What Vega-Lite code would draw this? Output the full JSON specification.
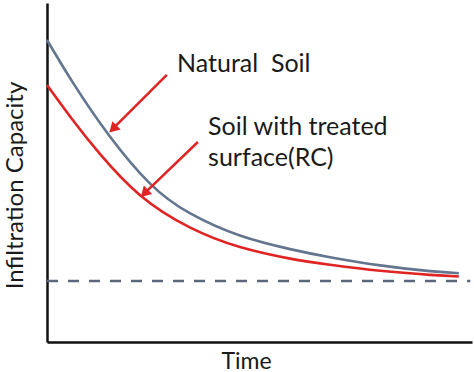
{
  "$schema": "https://vega.github.io/schema/vega-lite/v6.json",
  "width": 425,
  "height": 339,
  "autosize": {"type": "none"},
  "padding": {"left": 47, "top": 3, "right": 2, "bottom": 30},
  "background": "white",
  "config": {
    "view": {"stroke": null},
    "font": "Lato",
    "axis": {"grid": false, "ticks": false, "labels": false, "domainColor": "#111111", "domainWidth": 2.5, "titleFont": "Lato", "titleFontWeight": "normal", "titleColor": "#1a1a1a"}
  },
  "datasets": {
    "curves": [
      {"series": "natural", "t": 0, "v": 89.1},
      {"series": "natural", "t": 6.1, "v": 76.5},
      {"series": "natural", "t": 14.4, "v": 61.3},
      {"series": "natural", "t": 24.2, "v": 46.8},
      {"series": "natural", "t": 33.6, "v": 38.0},
      {"series": "natural", "t": 45.4, "v": 31.4},
      {"series": "natural", "t": 57.2, "v": 27.4},
      {"series": "natural", "t": 66.6, "v": 25.0},
      {"series": "natural", "t": 78.4, "v": 22.6},
      {"series": "natural", "t": 90.1, "v": 20.9},
      {"series": "natural", "t": 96.9, "v": 20.3},
      {"series": "treated", "t": 0, "v": 75.8},
      {"series": "treated", "t": 6.1, "v": 65.4},
      {"series": "treated", "t": 12.5, "v": 55.4},
      {"series": "treated", "t": 21.9, "v": 43.3},
      {"series": "treated", "t": 33.6, "v": 33.8},
      {"series": "treated", "t": 45.4, "v": 28.0},
      {"series": "treated", "t": 57.2, "v": 24.6},
      {"series": "treated", "t": 66.6, "v": 22.8},
      {"series": "treated", "t": 78.4, "v": 21.0},
      {"series": "treated", "t": 90.1, "v": 19.8},
      {"series": "treated", "t": 96.9, "v": 19.3}
    ],
    "baseline": [{"level": 18, "start": 0, "end": 99.6}],
    "arrows": [
      {"x0": 28.2, "y0": 78.8, "x1": 15.4, "y1": 62.8, "hx": 15.8, "hy": 63.2},
      {"x0": 35.5, "y0": 59.0, "x1": 22.8, "y1": 43.7, "hx": 23.2, "hy": 44.2}
    ],
    "labels": [
      {"label": "Natural\u00a0\u00a0Soil", "lx": 30.6, "ly": 79.6},
      {"label": "Soil with treated", "lx": 37.9, "ly": 61.1},
      {"label": "surface(RC)", "lx": 37.9, "ly": 51.9}
    ]
  },
  "layer": [
    {
      "data": {"name": "baseline"},
      "mark": {"type": "rule", "color": "#5b687c", "strokeWidth": 2.5, "strokeDash": [11, 10]},
      "encoding": {
        "x": {"field": "start", "type": "quantitative", "scale": {"domain": [0, 100]}, "axis": {"title": "Time", "titleFontSize": 23, "titlePadding": 8, "titleX": 199, "domain": true, "orient": "bottom"}},
        "x2": {"field": "end"},
        "y": {"field": "level", "type": "quantitative", "scale": {"domain": [0, 100]}, "axis": {"title": "Infiltration Capacity", "titleFontSize": 24, "titlePadding": 20, "titleY": 182, "orient": "left"}}
      }
    },
    {
      "data": {"name": "curves"},
      "mark": {"type": "line", "interpolate": "natural", "strokeWidth": 2.6},
      "encoding": {
        "x": {"field": "t", "type": "quantitative"},
        "y": {"field": "v", "type": "quantitative"},
        "color": {"field": "series", "type": "nominal", "scale": {"domain": ["natural", "treated"], "range": ["#63758f", "#e02424"]}, "legend": null}
      }
    },
    {
      "data": {"name": "arrows"},
      "mark": {"type": "rule", "color": "#e02424", "strokeWidth": 2.5},
      "encoding": {
        "x": {"field": "x0", "type": "quantitative"},
        "y": {"field": "y0", "type": "quantitative"},
        "x2": {"field": "x1"},
        "y2": {"field": "y1"}
      }
    },
    {
      "data": {"name": "arrows"},
      "mark": {"type": "point", "shape": "triangle", "filled": true, "color": "#e02424", "size": 140, "angle": 225, "opacity": 1},
      "encoding": {
        "x": {"field": "hx", "type": "quantitative"},
        "y": {"field": "hy", "type": "quantitative"}
      }
    },
    {
      "data": {"name": "labels"},
      "mark": {"type": "text", "align": "left", "baseline": "alphabetic", "fontSize": 25, "font": "Lato", "color": "#1a1a1a"},
      "encoding": {
        "x": {"field": "lx", "type": "quantitative"},
        "y": {"field": "ly", "type": "quantitative"},
        "text": {"field": "label"}
      }
    }
  ]
}
